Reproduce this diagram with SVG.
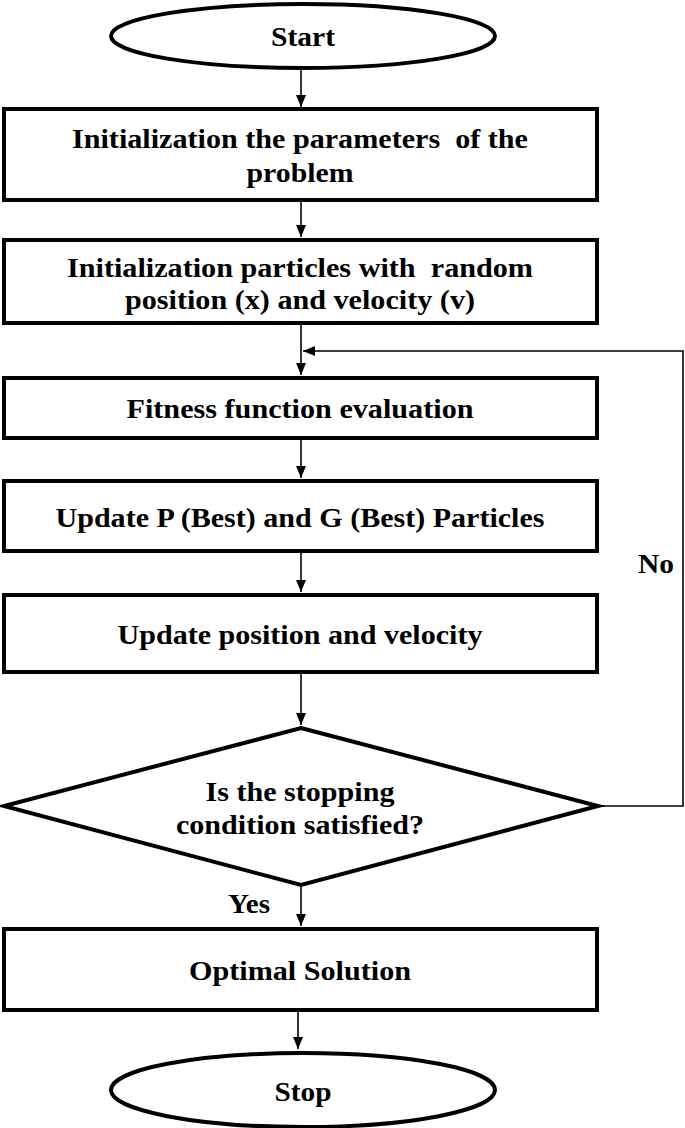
<svg xmlns="http://www.w3.org/2000/svg" width="685" height="1128" viewBox="0 0 685 1128">
<style>
.shape{fill:#fff;stroke:#000;stroke-width:4}
.t{font-family:"Liberation Serif","Times New Roman",serif;font-weight:bold;font-size:27px;fill:#000;white-space:pre}
.c{fill:none;stroke:#000;stroke-width:1.6}
</style>
<defs>
<marker id="ah" markerWidth="12" markerHeight="10" refX="12" refY="5" orient="auto" markerUnits="userSpaceOnUse">
<path d="M0,0 L12,5 L0,10 Z" fill="#000"/>
</marker>
</defs>
<rect width="685" height="1128" fill="#fff"/>
<g id="connectors">
<line class="c" x1="301" y1="69" x2="301" y2="107" marker-end="url(#ah)"/>
<line class="c" x1="301" y1="201" x2="301" y2="237" marker-end="url(#ah)"/>
<line class="c" x1="301" y1="324" x2="301" y2="375" marker-end="url(#ah)"/>
<line class="c" x1="301" y1="439" x2="301" y2="478" marker-end="url(#ah)"/>
<line class="c" x1="301" y1="552" x2="301" y2="592" marker-end="url(#ah)"/>
<line class="c" x1="301" y1="673" x2="301" y2="725" marker-end="url(#ah)"/>
<polyline class="c" points="599,806 683,806 683,351 303,351" marker-end="url(#ah)"/>
<line class="c" x1="301" y1="887" x2="301" y2="926" marker-end="url(#ah)"/>
<line class="c" x1="298" y1="1011" x2="298" y2="1049" marker-end="url(#ah)"/>
<text class="t" x="656" y="573" text-anchor="middle" textLength="36" lengthAdjust="spacingAndGlyphs">No</text>
<text class="t" x="249" y="913" text-anchor="middle" textLength="42" lengthAdjust="spacingAndGlyphs">Yes</text>
</g>
<g id="start">
<ellipse class="shape" cx="303" cy="36" rx="192" ry="32"/>
<text class="t" x="303" y="46" text-anchor="middle" textLength="64" lengthAdjust="spacingAndGlyphs">Start</text>
</g>
<g id="init-params">
<rect class="shape" x="4" y="109" width="593" height="91"/>
<text class="t" x="300" y="148" text-anchor="middle" textLength="456" lengthAdjust="spacingAndGlyphs" xml:space="preserve">Initialization the parameters  of the</text>
<text class="t" x="300" y="182" text-anchor="middle" textLength="107" lengthAdjust="spacingAndGlyphs">problem</text>
</g>
<g id="init-particles">
<rect class="shape" x="4" y="240" width="593" height="83"/>
<text class="t" x="300" y="277" text-anchor="middle" textLength="466" lengthAdjust="spacingAndGlyphs" xml:space="preserve">Initialization particles with  random</text>
<text class="t" x="300" y="309" text-anchor="middle" textLength="350" lengthAdjust="spacingAndGlyphs">position (x) and velocity (v)</text>
</g>
<g id="fitness">
<rect class="shape" x="4" y="378" width="593" height="60"/>
<text class="t" x="300" y="418" text-anchor="middle" textLength="347" lengthAdjust="spacingAndGlyphs">Fitness function evaluation</text>
</g>
<g id="update-best">
<rect class="shape" x="4" y="481" width="593" height="70"/>
<text class="t" x="300" y="527" text-anchor="middle" textLength="489" lengthAdjust="spacingAndGlyphs">Update P (Best) and G (Best) Particles</text>
</g>
<g id="update-pos">
<rect class="shape" x="4" y="595" width="593" height="77"/>
<text class="t" x="300" y="644" text-anchor="middle" textLength="365" lengthAdjust="spacingAndGlyphs">Update position and velocity</text>
</g>
<g id="decision">
<polygon class="shape" points="301,728 598,806 301,885 4,806"/>
<text class="t" x="300" y="801" text-anchor="middle" textLength="189" lengthAdjust="spacingAndGlyphs">Is the stopping</text>
<text class="t" x="300" y="834" text-anchor="middle" textLength="248" lengthAdjust="spacingAndGlyphs">condition satisfied?</text>
</g>
<g id="optimal">
<rect class="shape" x="4" y="929" width="593" height="81"/>
<text class="t" x="300" y="980" text-anchor="middle" textLength="222" lengthAdjust="spacingAndGlyphs">Optimal Solution</text>
</g>
<g id="stop">
<ellipse class="shape" cx="303" cy="1090" rx="192" ry="37"/>
<text class="t" x="303" y="1101" text-anchor="middle" textLength="57" lengthAdjust="spacingAndGlyphs">Stop</text>
</g>
</svg>
